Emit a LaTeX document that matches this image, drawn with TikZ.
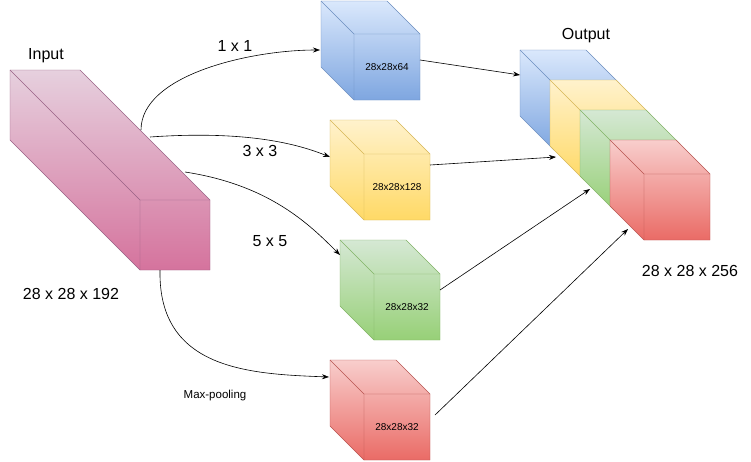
\documentclass[tikz,border=0pt]{standalone}
\usepackage{fontspec}
\setmainfont{Liberation Sans}
\usetikzlibrary{arrows.meta}
\definecolor{bT}{HTML}{DAE8FC}\definecolor{bB}{HTML}{7EA6E0}\definecolor{bS}{HTML}{6C8EBF}
\definecolor{yT}{HTML}{FFF2CC}\definecolor{yB}{HTML}{FFD966}\definecolor{yS}{HTML}{D6B656}
\definecolor{gT}{HTML}{D5E8D4}\definecolor{gB}{HTML}{97D077}\definecolor{gS}{HTML}{82B366}
\definecolor{rT}{HTML}{F8CECC}\definecolor{rB}{HTML}{EA6B66}\definecolor{rS}{HTML}{B85450}
\definecolor{pT}{HTML}{E6D0DE}\definecolor{pB}{HTML}{D5739D}\definecolor{pS}{HTML}{996185}
% cube: #1 x, #2 y (back top-left), #3 size, #4 depth, #5 prefix, #6 name
\newcommand{\mycube}[6]{%
  \draw[#5S, top color=#5T, bottom color=#5B]
    (#1,#2) -- ++(#3,0) -- ++(#4,#4) -- ++(0,#3) -- ++(-#3,0) -- ++(-#4,-#4) -- cycle;
  \draw[#5S] (#1,#2) -- ++(#4,#4) -- ++(#3,0) (#1+#4,#2+#4) -- ++(0,#3);
  \node[inner sep=0, minimum width=#3, minimum height=#3] (#6) at (#1+#4+#3/2,#2+#4+#3/2) {};
}
\tikzset{conn/.style={-{Stealth[length=7pt,width=5pt]}, line width=0.6pt},
  big/.style={font=\fontsize{16}{18}\selectfont},
  small/.style={font=\fontsize{10}{12}\selectfont}}
\begin{document}
\begin{tikzpicture}[x=1pt,y=-1pt]
\useasboundingbox (0,0) rectangle (751,461);
\fill[white] (0,0) rectangle (751,461);
\mycube{10}{70}{70}{130}{p}{in}
\mycube{321}{1}{66}{33}{b}{c1}
\mycube{330}{120}{66}{34}{y}{c3}
\mycube{340}{240}{66}{34}{g}{c5}
\mycube{330}{360}{66}{34}{r}{cm}
\mycube{520}{50}{66}{34}{b}{o1}
\mycube{550}{80}{66}{34}{y}{o2}
\mycube{580}{110}{66}{34}{g}{o3}
\mycube{610}{140}{66}{34}{r}{o4}
\node[small] at (c1) {28x28x64};
\node[small] at (c3) {28x28x128};
\node[small] at (c5) {28x28x32};
\node[small] at (cm) {28x28x32};
\coordinate (s1) at (141,130);
\coordinate (s3) at (150,137);
\coordinate (s5) at (185,172);
\coordinate (sm) at (160,270);
\coordinate (t1) at (320,50);
\coordinate (t3) at (330,157);
\coordinate (t5) at (340,255);
\coordinate (tm) at (329,377);
\draw[conn] (s1) .. controls (141,75) and (250,50) .. (t1);
\draw[conn] (s3) .. controls (250,130) and (300,145) .. (t3);
\draw[conn] (s5) .. controls (270,185) and (310,225) .. (t5);
\draw[conn] (sm) .. controls (158,370) and (250,374) .. (tm);
\coordinate (e1) at (420,60); \coordinate (f1) at (520,75);
\coordinate (e3) at (430,165); \coordinate (f3) at (556,157);
\coordinate (e5) at (440,290); \coordinate (f5) at (590,189);
\coordinate (em) at (435,415); \coordinate (fm) at (628,229);
\draw[conn] (e1) -- (f1);
\draw[conn] (e3) -- (f3);
\draw[conn] (e5) -- (f5);
\draw[conn] (em) -- (fm);
\node[big] at (235,46) {1 x 1};
\node[big] at (260,151) {3 x 3};
\node[big] at (270,241) {5 x 5};
\node[big, font=\fontsize{11.5}{13}\selectfont] at (215,396) {Max-pooling};
\node[big] at (46,56) {Input};
\node[big] at (586,36) {Output};
\node[big] at (71,294) {28 x 28 x 192};
\node[big] at (690,271) {28 x 28 x 256};
\end{tikzpicture}
\end{document}
